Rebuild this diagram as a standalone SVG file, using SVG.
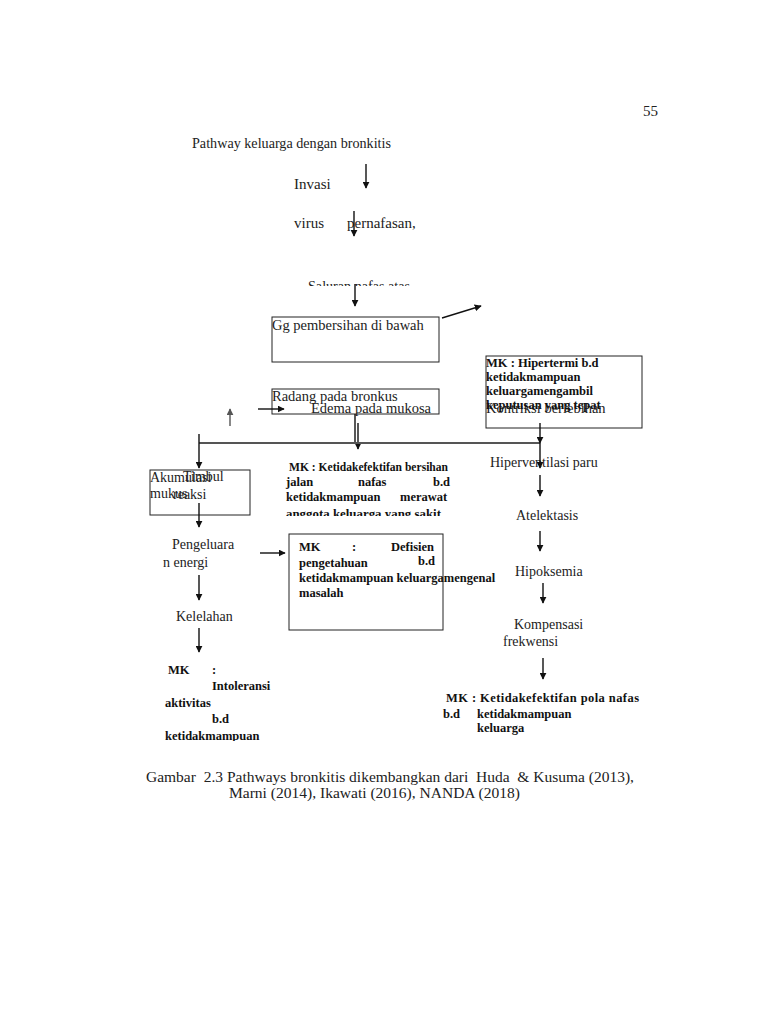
<svg xmlns="http://www.w3.org/2000/svg" width="768" height="1024" viewBox="0 0 768 1024">
<style>
text{font-family:"Liberation Serif","Times New Roman",serif;fill:#222}
.r{font-size:14px}
.b{font-size:12.5px;font-weight:bold;fill:#111}
.box{fill:none;stroke:#222;stroke-width:1}
.ln{stroke:#111;stroke-width:1.4;fill:none}
.hl{stroke:#555;stroke-width:2;fill:none}
</style>
<defs>
<marker id="ah" viewBox="0 0 10 10" refX="9" refY="5" markerWidth="7" markerHeight="7" orient="auto" markerUnits="userSpaceOnUse"><path d="M0,0 L10,5 L0,10 z" fill="#111"/></marker>
<marker id="ahg" viewBox="0 0 10 10" refX="9" refY="5" markerWidth="7" markerHeight="7" orient="auto" markerUnits="userSpaceOnUse"><path d="M0,0 L10,5 L0,10 z" fill="#555"/></marker>
<clipPath id="c1"><rect x="290" y="270" width="150" height="16"/></clipPath>
<clipPath id="c2"><rect x="280" y="455" width="175" height="61"/></clipPath>
<clipPath id="c3"><rect x="150" y="470" width="100" height="31"/></clipPath>
<clipPath id="c4"><rect x="150" y="655" width="160" height="86"/></clipPath>
</defs>
<rect width="768" height="1024" fill="#fff"/>

<text x="643" y="116" class="r" style="font-size:15px">55</text>
<text x="192" y="148" class="r" style="font-size:14px" textLength="199" lengthAdjust="spacingAndGlyphs">Pathway keluarga dengan bronkitis</text>

<g id="n-invasi"><text x="294" y="189" class="r" style="font-size:15px">Invasi</text></g>
<g id="n-virus"><text x="294" y="228" class="r" style="font-size:15px">virus</text><text x="347" y="228" class="r" style="font-size:15px">pernafasan,</text></g>
<g id="n-saluran" clip-path="url(#c1)"><text x="308" y="291" class="r" style="font-size:14.5px" textLength="102" lengthAdjust="spacingAndGlyphs">Saluran nafas atas</text></g>

<g id="n-gg"><rect x="272" y="317" width="167" height="45" class="box"/><text x="272" y="330" class="r" style="font-size:14.5px">Gg pembersihan di bawah</text></g>

<g id="n-radang"><rect x="272" y="389" width="167" height="25" class="box"/><text x="272" y="401" class="r" style="font-size:14.5px">Radang pada bronkus</text><text x="311" y="413" class="r" style="font-size:14.5px">Edema pada mukosa</text></g>

<g id="n-hipertermi"><rect x="486" y="356" width="156" height="72" class="box"/>
<text x="486" y="413" class="r" style="font-size:14.5px">Kontriksi berlebihan</text>
<text x="486" y="367" class="b">MK : Hipertermi b.d</text>
<text x="486" y="381" class="b">ketidakmampuan</text>
<text x="486" y="395" class="b">keluargamengambil</text>
<text x="486" y="409" class="b">keputusan yang tepat</text></g>

<g id="n-akumulasi"><rect x="150" y="470" width="100" height="45" class="box"/>
<g clip-path="url(#c3)">
<text x="150" y="482" class="r">Akumulasi</text><text x="150" y="498" class="r">mukus</text>
<text x="183" y="481" class="r">Timbul</text><text x="173" y="499" class="r">reaksi</text></g></g>

<g id="n-mk-bersihan" clip-path="url(#c2)">
<text x="289" y="471" class="b" textLength="159" lengthAdjust="spacingAndGlyphs">MK : Ketidakefektifan bersihan</text>
<text x="286" y="486" class="b">jalan</text><text x="358" y="486" class="b">nafas</text><text x="433" y="486" class="b">b.d</text>
<text x="286" y="501" class="b">ketidakmampuan</text><text x="400" y="501" class="b">merawat</text>
<text x="286" y="518" class="b" textLength="155" lengthAdjust="spacingAndGlyphs">anggota keluarga yang sakit</text></g>

<g id="n-hiperventilasi"><text x="490" y="467" class="r">Hiperventilasi paru</text></g>
<g id="n-atelektasis"><text x="516" y="520" class="r">Atelektasis</text></g>

<g id="n-pengeluaran"><text x="172" y="549" class="r">Pengeluara</text><text x="163" y="567" class="r">n energi</text></g>

<g id="n-mk-defisien"><rect x="289" y="534" width="154" height="96" class="box"/>
<text x="299" y="551" class="b">MK</text><text x="352" y="551" class="b">:</text><text x="391" y="551" class="b">Defisien</text>
<text x="299" y="567" class="b">pengetahuan</text><text x="418" y="565" class="b">b.d</text>
<text x="299" y="582" class="b">ketidakmampuan keluargamengenal</text>
<text x="299" y="597" class="b">masalah</text></g>

<g id="n-hipoksemia"><text x="515" y="576" class="r">Hipoksemia</text></g>
<g id="n-kelelahan"><text x="176" y="621" class="r">Kelelahan</text></g>
<g id="n-kompensasi"><text x="514" y="629" class="r">Kompensasi</text><text x="503" y="646" class="r">frekwensi</text></g>

<g id="n-mk-intoleransi" clip-path="url(#c4)">
<text x="168" y="674" class="b">MK</text><text x="212" y="674" class="b">:</text>
<text x="212" y="690" class="b">Intoleransi</text>
<text x="165" y="707" class="b">aktivitas</text>
<text x="212" y="723" class="b">b.d</text>
<text x="165" y="740" class="b">ketidakmampuan</text></g>

<g id="n-mk-pola">
<text x="446" y="702" class="b" textLength="193" lengthAdjust="spacing">MK : Ketidakefektifan pola nafas</text>
<text x="443" y="718" class="b">b.d</text><text x="477" y="718" class="b">ketidakmampuan</text>
<text x="477" y="732" class="b">keluarga</text></g>

<g id="connectors">
<line x1="366" y1="164" x2="366" y2="188" class="ln" marker-end="url(#ah)"/>
<line x1="354" y1="211" x2="354" y2="236" class="ln" marker-end="url(#ah)"/>
<line x1="355" y1="284" x2="355" y2="306" class="ln" marker-end="url(#ah)"/>
<line x1="442" y1="318" x2="481" y2="306" class="ln" marker-end="url(#ah)"/>
<line x1="230" y1="426" x2="230" y2="409" class="ln" marker-end="url(#ahg)" style="stroke:#555"/>
<line x1="258" y1="409" x2="284" y2="409" class="ln" marker-end="url(#ah)"/>
<line x1="355" y1="414" x2="355" y2="443" class="ln"/>
<line x1="358" y1="423" x2="358" y2="449" class="ln" marker-end="url(#ah)"/>
<line x1="199" y1="443" x2="540" y2="443" class="hl"/>
<line x1="199" y1="434" x2="199" y2="468" class="ln" marker-end="url(#ah)"/>
<line x1="540" y1="423" x2="540" y2="443" class="ln" marker-end="url(#ah)"/>
<line x1="540" y1="443" x2="540" y2="468" class="ln" marker-end="url(#ah)"/>
<line x1="540" y1="475" x2="540" y2="496" class="ln" marker-end="url(#ah)"/>
<line x1="540" y1="531" x2="540" y2="551" class="ln" marker-end="url(#ah)"/>
<line x1="543" y1="583" x2="543" y2="603" class="ln" marker-end="url(#ah)"/>
<line x1="543" y1="658" x2="543" y2="679" class="ln" marker-end="url(#ah)"/>
<line x1="199" y1="503" x2="199" y2="527" class="ln" marker-end="url(#ah)"/>
<line x1="260" y1="553" x2="285" y2="553" class="ln" marker-end="url(#ah)"/>
<line x1="199" y1="575" x2="199" y2="600" class="ln" marker-end="url(#ah)"/>
<line x1="199" y1="628" x2="199" y2="652" class="ln" marker-end="url(#ah)"/>
</g>

<text x="146" y="782" class="r" style="font-size:15px;white-space:pre" xml:space="preserve" textLength="488" lengthAdjust="spacingAndGlyphs">Gambar  2.3 Pathways bronkitis dikembangkan dari  Huda  &amp; Kusuma (2013),</text>
<text x="229" y="798" class="r" style="font-size:15px" textLength="291" lengthAdjust="spacingAndGlyphs">Marni (2014), Ikawati (2016), NANDA (2018)</text>
</svg>
